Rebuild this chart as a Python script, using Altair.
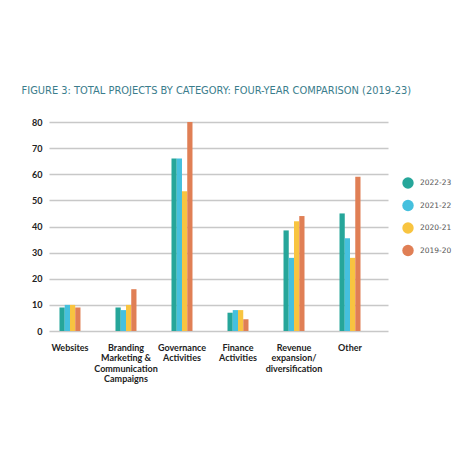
import altair as alt
import pandas as pd

categories = [
    "Websites",
    "Branding\nMarketing &\nCommunication\nCampaigns",
    "Governance\nActivities",
    "Finance\nActivities",
    "Revenue\nexpansion/\ndiversification",
    "Other",
]
years = ["2022-23", "2021-22", "2020-21", "2019-20"]
v_2022_23 = [9, 9, 66, 7, 38.5, 45]
v_2021_22 = [10, 8, 66, 8, 28, 35.5]
v_2020_21 = [10, 10, 53.5, 8, 42, 28]
v_2019_20 = [9, 16, 80, 4.5, 44, 59]
colors = ["#26a69a", "#45c0de", "#f8c440", "#e07f55"]
y_ticks = [0, 10, 20, 30, 40, 50, 60, 70, 80]

series = {"2022-23": v_2022_23, "2021-22": v_2021_22, "2020-21": v_2020_21, "2019-20": v_2019_20}
rows = []
for y, vals in series.items():
    for c, v in zip(categories, vals):
        rows.append({"category": c, "year": y, "value": v})
df = pd.DataFrame(rows)

chart = alt.Chart(df).mark_bar().encode(
    x=alt.X(
        "category:N",
        sort=categories,
        title=None,
        scale=alt.Scale(paddingInner=0.625, paddingOuter=0.339, align=0.276),
        axis=alt.Axis(
            labelAngle=0,
            labelExpr="split(datum.label, '\\n')",
            labelFont="Lato",
            labelFontSize=9,
            labelFontWeight="bold",
            labelColor="#222222",
            labelPadding=12,
            labelLineHeight=10.5,
            labelBaseline="top",
            ticks=False,
            domain=False,
            grid=False,
        ),
    ),
    xOffset=alt.XOffset("year:N", sort=years),
    y=alt.Y(
        "value:Q",
        title=None,
        scale=alt.Scale(domain=[0, 80], nice=False),
        axis=alt.Axis(
            values=y_ticks,
            labelFont="Lato",
            labelFontSize=9,
            labelFontWeight="bold",
            labelColor="#222222",
            labelPadding=7,
            ticks=False,
            domain=False,
            grid=True,
            gridColor="#c8c8c8",
            gridWidth=1.3,
        ),
    ),
    color=alt.Color(
        "year:N",
        sort=years,
        scale=alt.Scale(domain=years, range=colors),
        legend=alt.Legend(
            title=None,
            orient="none",
            legendX=353,
            legendY=55,
            symbolType="circle",
            symbolSize=130,
            symbolStrokeWidth=0,
            rowPadding=10.5,
            labelFont="DejaVu Sans",
            labelFontSize=7.5,
            labelColor="#555555",
            labelOffset=6,
        ),
    ),
).properties(
    width=339,
    height=209,
    autosize=alt.AutoSizeParams(type="none"),
    padding={"left": 49, "top": 122, "right": 86, "bottom": 143},
    background="white",
    title=alt.TitleParams(
        "FIGURE 3: TOTAL PROJECTS BY CATEGORY: FOUR-YEAR COMPARISON (2019-23)",
        anchor="start",
        dx=-10,
        offset=22,
        font="DejaVu Sans",
        fontSize=9.9,
        fontWeight="normal",
        color="#3b7d8c",
    ),
).configure_view(stroke=None)

chart.save("out.html", embed_options={"renderer": "svg", "actions": False})
